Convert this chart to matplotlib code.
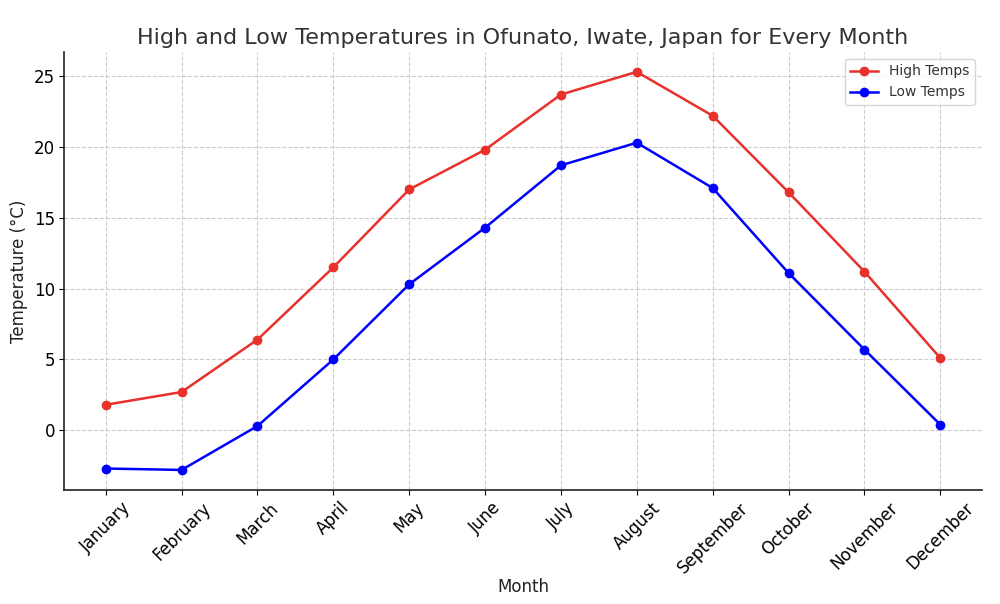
import matplotlib
matplotlib.use("Agg")
import matplotlib.pyplot as plt

months = ['January', 'February', 'March', 'April', 'May', 'June', 'July',
          'August', 'September', 'October', 'November', 'December']
high_temps = [1.8, 2.7, 6.4, 11.5, 17.0, 19.8, 23.7, 25.3, 22.2, 16.8, 11.2, 5.1]
low_temps = [-2.7, -2.8, 0.3, 5.0, 10.3, 14.3, 18.7, 20.3, 17.1, 11.1, 5.7, 0.4]

fig, ax = plt.subplots(figsize=(10, 6.04), dpi=100)
ax.plot(months, high_temps, marker='o', color='#e8312a', linewidth=1.8, label='High Temps')
ax.plot(months, low_temps, marker='o', color='#0000ff', linewidth=1.8, label='Low Temps')

ax.set_title('High and Low Temperatures in Ofunato, Iwate, Japan for Every Month',
             fontsize=16, color='#333333')
ax.set_xlabel('Month', fontsize=12, color='#222222', labelpad=1)
ax.set_ylabel('Temperature (°C)', fontsize=12, color='#222222')
ax.tick_params(labelsize=12, pad=3)
plt.xticks(rotation=45)
ax.grid(True, linestyle='--', color='#cccccc', linewidth=0.8)
ax.spines['top'].set_visible(False)
ax.spines['right'].set_visible(False)
for s in ['left', 'bottom']:
    ax.spines[s].set_linewidth(1.2)
    ax.spines[s].set_color('#222222')
leg = ax.legend(loc='upper right', fontsize=10)
for t in leg.get_texts():
    t.set_color('#333333')

fig.subplots_adjust(left=0.064, right=0.982, top=0.914, bottom=0.189)
fig.savefig('out.png')
